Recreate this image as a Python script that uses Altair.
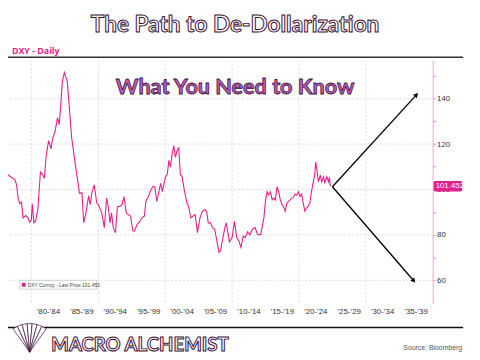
import altair as alt
import pandas as pd

# ---- data ----
years = [1976.37, 1977.01, 1977.5, 1977.75, 1977.99, 1978.24, 1978.49, 1978.72, 1979.12, 1979.46,
         1979.71, 1979.96, 1980.1, 1980.34, 1980.59, 1980.93, 1981.32, 1981.66, 1981.91, 1982.16,
         1982.54, 1982.9, 1983.13, 1983.53, 1983.87, 1984.12, 1984.37, 1984.6, 1984.9, 1985.34,
         1985.69, 1985.99, 1986.32, 1986.66, 1986.96, 1987.16, 1987.54, 1987.79, 1988.13, 1988.53,
         1988.78, 1989.01, 1989.37, 1989.75, 1990.0, 1990.49, 1990.88, 1991.22, 1991.47, 1991.72,
         1991.96, 1992.21, 1992.54, 1992.84, 1993.19, 1993.53, 1993.82, 1994.16, 1994.51, 1994.81,
         1995.15, 1995.4, 1995.78, 1996.13, 1996.47, 1996.87, 1997.1, 1997.46, 1997.84, 1998.19,
         1998.43, 1998.72, 1999.31, 1999.56, 1999.81, 2000.04, 2000.29, 2000.54, 2000.78, 2001.03,
         2001.28, 2001.51, 2001.76, 2002.01, 2002.25, 2002.5, 2002.84, 2003.24, 2003.49, 2003.82,
         2004.12, 2004.46, 2004.81, 2005.19, 2005.54, 2005.93, 2006.18, 2006.43, 2006.76, 2007.06,
         2007.4, 2007.75, 2008.04, 2008.28, 2008.53, 2008.87, 2009.12, 2009.37, 2009.6, 2010.0,
         2010.34, 2010.69, 2010.99, 2011.32, 2011.66, 2011.96, 2012.31, 2012.65, 2013.04, 2013.43,
         2013.78, 2014.26, 2014.75, 2015.0, 2015.25, 2015.49, 2015.74, 2015.99, 2016.22, 2016.47,
         2016.72, 2016.96, 2017.21, 2017.46, 2017.69, 2017.94, 2018.19, 2018.43, 2018.68, 2018.93,
         2019.16, 2019.41, 2019.66, 2019.9, 2020.15, 2020.4, 2020.63, 2020.88, 2021.13, 2021.37,
         2021.62, 2021.87, 2022.1, 2022.35, 2022.5, 2022.69, 2022.9, 2023.19, 2023.38, 2023.68,
         2023.87, 2024.16, 2024.41, 2024.56, 2024.66, 2024.8]
dxy = [106.6, 105.3, 104.4, 102.0, 96.2, 93.7, 94.5, 87.5, 88.5, 87.5,
       85.6, 86.5, 93.7, 85.3, 86.0, 91.1, 107.7, 106.6, 104.9, 114.2,
       121.5, 117.9, 122.2, 125.8, 131.6, 128.7, 137.4, 147.5, 151.5, 147.5,
       134.5, 122.9, 115.7, 108.5, 102.7, 98.4, 98.5, 85.3, 89.7, 97.2,
       93.3, 98.4, 102.0, 94.0, 93.3, 89.7, 83.2, 96.2, 92.5, 85.3,
       89.7, 83.2, 81.0, 92.5, 92.5, 93.3, 96.9, 89.7, 88.9, 88.2,
       81.7, 81.7, 84.6, 85.6, 87.5, 88.2, 94.7, 96.9, 99.8, 101.5,
       101.2, 94.7, 102.7, 99.0, 102.7, 105.6, 106.6, 112.8, 109.9, 115.7,
       119.3, 114.2, 117.1, 118.3, 106.6, 105.8, 99.8, 94.0, 92.5, 87.5,
       88.2, 88.9, 81.0, 87.5, 90.4, 91.1, 90.4, 85.3, 85.3, 83.2,
       82.5, 76.7, 72.3, 73.0, 77.4, 82.5, 85.3, 81.0, 77.0, 78.8,
       86.0, 78.8, 77.4, 74.5, 79.5, 78.8, 81.3, 80.0, 82.5, 83.2,
       80.3, 80.0, 87.5, 95.4, 99.0, 97.6, 99.0, 95.4, 96.2, 95.4,
       101.2, 99.0, 95.4, 93.3, 92.5, 90.4, 94.0, 94.7, 95.4, 96.2,
       96.5, 98.0, 97.5, 99.0, 96.9, 98.0, 94.0, 90.4, 91.8, 92.5,
       94.0, 99.0, 102.7, 106.3, 112.1, 108.5, 103.4, 106.3, 103.4, 105.6,
       103.0, 105.6, 103.4, 105.3, 102.0, 101.45]

period_mid = [1982.5, 1987.5, 1992.5, 1997.5, 2002.5, 2007.5, 2012.5, 2017.5,
              2022.5, 2027.5, 2032.5, 2037.5]
period_labels = ["\u201980-\u201984", "\u201985-\u201989", "\u201990-\u201994", "\u201995-\u201999",
                 "\u201900-\u201904", "\u201905-\u201909", "\u201910-\u201914", "\u201915-\u201919",
                 "\u201920-\u201924", "\u201925-\u201929", "\u201930-\u201934", "\u201935-\u201939"]
decades = [1980, 1990, 2000, 2010, 2020, 2030]
y_grid = [60, 80, 100, 120, 140]
y_ticks = [60, 70, 80, 90, 100, 110, 120, 130, 140, 150]

arrow_start_year = [2025.0, 2025.0]
arrow_start_val = [101.2, 101.2]
arrow_end_year = [2037.5, 2037.1]
arrow_end_val = [141.5, 60.0]
arrow_head_angle = [43, 141]

last_price = 101.452
legend_text = "DXY Curncy - Last Price 101.453"

# ---- layout constants ----
W, H = 432, 247
PINK = "#e3208c"
DARK = "#3a0d36"

xscale = alt.Scale(domain=[1976.47, 2040], nice=False, zero=False)
yscale = alt.Scale(domain=[50, 157], nice=False, zero=False)
yaxis = alt.Axis(orient="right", values=y_ticks, title=None, grid=False,
                 labelExpr="datum.value % 20 == 0 ? datum.value : ''",
                 labelColor="#333333", labelFontSize=8, labelFont="Liberation Sans",
                 domainColor="#f2a3d2", domainWidth=1, tickColor="#e58bc0",
                 tickSize=3, labelPadding=1)

one = pd.DataFrame({"k": [0]})

df = pd.DataFrame({"year": years, "dxy": dxy})
grid_h = pd.DataFrame({"v": y_grid})
grid_v = pd.DataFrame({"yr": decades})
lab = pd.DataFrame({"mid": period_mid, "label": period_labels})
arr = pd.DataFrame({"x": arrow_start_year, "y": arrow_start_val,
                    "x2": arrow_end_year, "y2": arrow_end_val, "ang": arrow_head_angle})

hgrid = alt.Chart(grid_h).mark_rule(color="#cfcfcf", strokeDash=[2, 2], strokeWidth=0.7).encode(
    y=alt.Y("v:Q", scale=yscale, axis=yaxis))
vgrid = alt.Chart(grid_v).mark_rule(color="#cfcfcf", strokeDash=[2, 2], strokeWidth=0.7).encode(
    x=alt.X("yr:Q", scale=xscale, axis=None))

line = alt.Chart(df).mark_line(color=PINK, strokeWidth=1.1).encode(
    x=alt.X("year:Q", scale=xscale, axis=None),
    y=alt.Y("dxy:Q", scale=yscale, axis=yaxis))

arrows = alt.Chart(arr).mark_rule(color="black", strokeWidth=1.3).encode(
    x=alt.X("x:Q", axis=None), y=alt.Y("y:Q", axis=yaxis), x2="x2:Q", y2="y2:Q")
heads = alt.Chart(arr).mark_point(shape="triangle", filled=True, color="black", size=28,
                                  opacity=1).encode(
    x=alt.X("x2:Q", axis=None), y=alt.Y("y2:Q", axis=yaxis),
    angle=alt.Angle("ang:Q", scale=None))

xlabels = alt.Chart(lab).mark_text(fontSize=8, color="#333333", font="Liberation Sans",
                                   baseline="middle").encode(
    x=alt.X("mid:Q", axis=None), y=alt.value(H + 9), text="label:N")

# price tag
tag_df = pd.DataFrame({"p": [last_price], "lo": [last_price - 2.3], "hi": [last_price + 2.3],
                       "t": [f"{last_price:.3f}"]})
tag_rect = alt.Chart(tag_df).mark_rect(color=PINK, cornerRadius=1.5).encode(
    x=alt.value(W + 1), x2=alt.value(W + 30), y=alt.Y("hi:Q", axis=yaxis), y2="lo:Q")
tag_text = alt.Chart(tag_df).mark_text(color="white", fontSize=8, font="Liberation Sans",
                                       align="left", baseline="middle").encode(
    x=alt.value(W + 3), y=alt.Y("p:Q", axis=yaxis), text="t:N")

# legend box
leg_box = alt.Chart(one).mark_rect(fill="white", stroke="#bdbdbd", strokeWidth=0.7).encode(
    x=alt.value(12), x2=alt.value(90), y=alt.value(224), y2=alt.value(233))
leg_sq = alt.Chart(one).mark_rect(color=PINK).encode(
    x=alt.value(14), x2=alt.value(18), y=alt.value(226.5), y2=alt.value(230.5))
leg_txt = alt.Chart(one).mark_text(text=legend_text, fontSize=5, color="#444444",
                                   align="left", baseline="middle",
                                   font="Liberation Sans").encode(
    x=alt.value(20), y=alt.value(228.5))

# headers & footer
title = alt.Chart(one).mark_text(text="The Path to De-Dollarization", fontSize=23,
                                 fontWeight="bold", font="Lato", fill="white", stroke=DARK,
                                 strokeWidth=1, align="center", baseline="middle").encode(
    x=alt.value(231), y=alt.value(-36))
sub = alt.Chart(one).mark_text(text="DXY - Daily", fontSize=9, fontWeight="bold",
                               font="Open Sans", color=PINK, align="left",
                               baseline="middle").encode(x=alt.value(4), y=alt.value(-9))
top_rule = alt.Chart(one).mark_rule(color="#333333", strokeWidth=1.5).encode(
    x=alt.value(-1), x2=alt.value(463), y=alt.value(-3))
know = alt.Chart(one).mark_text(text="What You Need to Know", fontSize=22, fontWeight="bold",
                                font="Lato", fill="#c060ba", stroke=DARK, strokeWidth=0.8,
                                align="center", baseline="middle").encode(
    x=alt.value(231), y=alt.value(27))
bot_rule = alt.Chart(one).mark_rule(color="#111111", strokeWidth=1.5).encode(
    x=alt.value(-1), x2=alt.value(463), y=alt.value(272))
brand = alt.Chart(one).mark_text(text="MACRO ALCHEMIST", fontSize=19, fontWeight="bold",
                                 font="Lato", fill="white", stroke=DARK, strokeWidth=1,
                                 align="left", baseline="middle").encode(
    x=alt.value(44), y=alt.value(290))
source = alt.Chart(one).mark_text(text="Source: Bloomberg", fontSize=7, color="#555555",
                                  font="Liberation Sans", align="right",
                                  baseline="middle").encode(x=alt.value(462), y=alt.value(293))

# shell logo: a fan of wedges
shell_df = pd.DataFrame({"w": [1] * 7})
shell = alt.Chart(shell_df).mark_arc(fill="white", stroke=DARK, strokeWidth=0.7,
                                     outerRadius=29).encode(
    theta=alt.Theta("w:Q", stack=True, scale=alt.Scale(range=[-0.62, 0.62])),
    x=alt.value(22), y=alt.value(297))

chart = alt.layer(
    hgrid, vgrid, line, arrows, heads, xlabels, tag_rect, tag_text,
    leg_box, leg_sq, leg_txt, title, sub, top_rule, know, bot_rule, brand, source, shell
).properties(
    width=W, height=H,
    padding={"left": 0, "top": 50, "right": 40, "bottom": 55},
    autosize=alt.AutoSizeParams(type="none"),
    background="white"
).configure_view(stroke=None)

chart.save("out.html", embed_options={"renderer": "svg", "actions": False})
